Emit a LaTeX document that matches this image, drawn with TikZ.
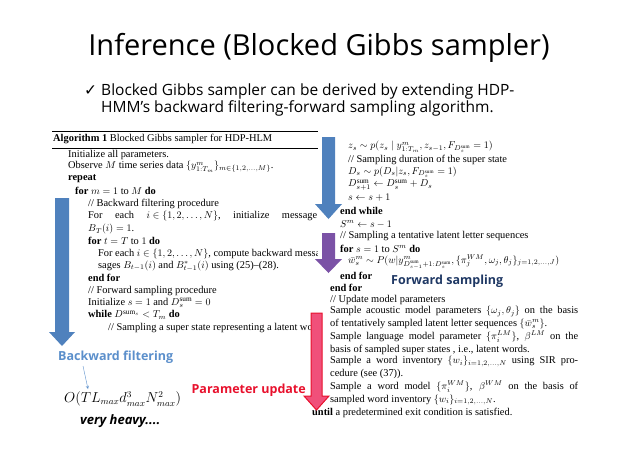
\documentclass[tikz,border=0pt]{standalone}
\usepackage{fontspec}
\usepackage{amsmath}
\setmainfont{Liberation Serif}
\newfontfamily\ttl{Open Sans}
\newfontfamily\djv{DejaVu Sans}
\definecolor{bfblue}{HTML}{4F81BD}
\definecolor{lblue}{HTML}{5B8FCB}
\definecolor{navy}{HTML}{1F3864}
\definecolor{purp}{HTML}{7B52A6}
\definecolor{pinkf}{HTML}{F0507A}
\definecolor{redt}{HTML}{E8112D}
\begin{document}
\begin{tikzpicture}[x=1pt,y=-1pt,
  al/.style={anchor=west,inner sep=0pt,font=\fontsize{10.4}{12.5}\selectfont},
  pa/.style={al,anchor=north west,text width=248pt,align=justify},
  lab/.style={anchor=west,inner sep=0pt,font=\ttl\bfseries\fontsize{12.5}{14}\selectfont}]
\useasboundingbox (0,0) rectangle (638,451);
\node[inner sep=0pt,font=\ttl\fontsize{29}{34}\selectfont] (title) at (319,48) {Inference (Blocked Gibbs sampler)};
\node[anchor=west,inner sep=0pt,font=\ttl\fontsize{15.5}{17}\selectfont,align=left] (bul) at (84,100)
 {{\djv ✓}\ Blocked Gibbs sampler can be derived by extending HDP-\\\phantom{{\djv ✓}\ }HMM’s backward filtering-forward sampling algorithm.};
% left column
\draw[line width=1pt] (52,131) -- (318,131);
\node[al] (h) at (53,139) {\textbf{Algorithm 1} Blocked Gibbs sampler for HDP-HLM};
\draw[line width=0.5pt] (52,148) -- (318,148);
\node[al] (l1) at (68,155) {Initialize all parameters.};
\node[al] (l2) at (68,167) {Observe $M$ time series data $\{y^m_{1:T_m}\}_{m\in\{1,2,\dots,M\}}$.};
\node[al] (l3) at (68,179) {\textbf{repeat}};
\node[al] (l4) at (75,191) {\textbf{for} $m=1$ to $M$ \textbf{do}};
\node[al] (l5) at (88,204) {// Backward filtering procedure};
\node[al,text width=229pt] (l6) at (88,216) {For\hfill each\hfill $i\in\{1,2,\dots,N\}$,\hfill initialize\hfill message};
\node[al] (l7) at (88,229) {$B_T(i)=1$.};
\node[al] (l8) at (88,241) {\textbf{for} $t=T$ to $1$ \textbf{do}};
\begin{scope}
\clip (52,240) rectangle (317,340);
\node[al] (l9) at (98,254) {For each $i\in\{1,2,\dots,N\}$, compute backward messages};
\node[al] (l10) at (98,266) {sages $B_{t-1}(i)$ and $B^*_{t-1}(i)$ using (25)--(28).};
\node[al] (l15) at (108,328) {// Sampling a super state representing a latent word};
\end{scope}
\node[al] (l11) at (88,278) {\textbf{end for}};
\node[al] (l12) at (88,291) {// Forward sampling procedure};
\node[al] (l13) at (88,303) {Initialize $s=1$ and $D^{\text{sum}}_s=0$};
\node[al] (l14) at (88,315) {\textbf{while} $D^{\text{sum}_s}<T_m$ \textbf{do}};
% right column
\node[al] (r1) at (348,147) {$z_s\sim p(z_s\mid y^m_{1:T_m},z_{s-1},F_{D^{\text{sum}}_s}=1)$};
\node[al] (r2) at (348,160) {// Sampling duration of the super state};
\node[al] (r3) at (348,172) {$D_s\sim p(D_s|z_s,F_{D^{\text{sum}}_s}=1)$};
\node[al] (r4) at (348,185) {$D^{\text{sum}}_{s+1}\leftarrow D^{\text{sum}}_s+D_s$};
\node[al] (r5) at (348,198) {$s\leftarrow s+1$};
\node[al] (r6) at (340,211) {\textbf{end while}};
\node[al] (r7) at (340,224) {$S^m\leftarrow s-1$};
\node[al] (r8) at (340,236) {// Sampling a tentative latent letter sequences};
\node[al] (r9) at (340,249) {\textbf{for} $s=1$ to $S^m$ \textbf{do}};
\node[al] (r10) at (348,262) {$\bar w^m_s\sim P(w|y^m_{D^{\text{sum}}_{s-1}+1:D^{\text{sum}}_s},\{\pi^{WM}_j,\omega_j,\theta_j\}_{j=1,2,\dots,J})$};
\node[al] (r11) at (340,276) {\textbf{end for}};
\node[al] (r12) at (330,288) {\textbf{end for}};
\node[al] (r13) at (330,300) {// Update model parameters};
\node[pa] (r14) at (330,306) {Sample acoustic model parameters $\{\omega_j,\theta_j\}$ on the basis\linebreak of tentatively sampled latent letter sequences $\{\bar w^m_s\}$.};
\node[pa] (r15) at (330,331) {Sample language model parameter $\{\pi^{LM}_i\}$, $\beta^{LM}$ on the\linebreak basis of sampled super states , i.e., latent words.};
\node[pa] (r16) at (330,356) {Sample a word inventory $\{w_i\}_{i=1,2,\dots,N}$ using SIR pro-\linebreak cedure (see (37)).};
\node[pa] (r17) at (330,381) {Sample a word model $\{\pi^{WM}_i\}$, $\beta^{WM}$ on the basis of\linebreak sampled word inventory $\{w_i\}_{i=1,2,\dots,N}$.};
\node[al] (r18) at (312,413) {\textbf{until} a predetermined exit condition is satisfied.};
% big arrows
\fill[bfblue] (55,198) -- (69,198) -- (69,332) -- (75,332) -- (62,346) -- (49,332) -- (55,332) -- cycle;
\fill[bfblue] (322,137) -- (335,137) -- (335,204) -- (342,204) -- (328.5,219) -- (315,204) -- (322,204) -- cycle;
\fill[purp] (322,233) -- (335,233) -- (335,259) -- (342,259) -- (328.5,273) -- (315,259) -- (322,259) -- cycle;
\filldraw[fill=pinkf,draw=redt,line width=1pt] (311,313) -- (322,313) -- (322,396) -- (329,396) -- (316.5,410) -- (304,396) -- (311,396) -- cycle;
% labels
\node[lab,text=navy] (fs) at (391,281) {Forward sampling};
\node[lab,text=lblue] (bf) at (58,357) {Backward filtering};
\node[lab,text=redt,anchor=east] (pu) at (306,390) {Parameter update};
\node[anchor=west,inner sep=0pt,font=\fontsize{13.5}{16}\selectfont] (cx) at (64,399) {$O(TL_{max}d^3_{max}N^2_{max})$};
\node[anchor=west,inner sep=0pt,font=\ttl\bfseries\itshape\fontsize{13}{15}\selectfont] (vh) at (80,421) {very heavy....};
\coordinate (bfa) at (83,366);
\draw[lblue,-stealth,line width=0.4pt] (bfa) -- (88,389);
\end{tikzpicture}
\end{document}
